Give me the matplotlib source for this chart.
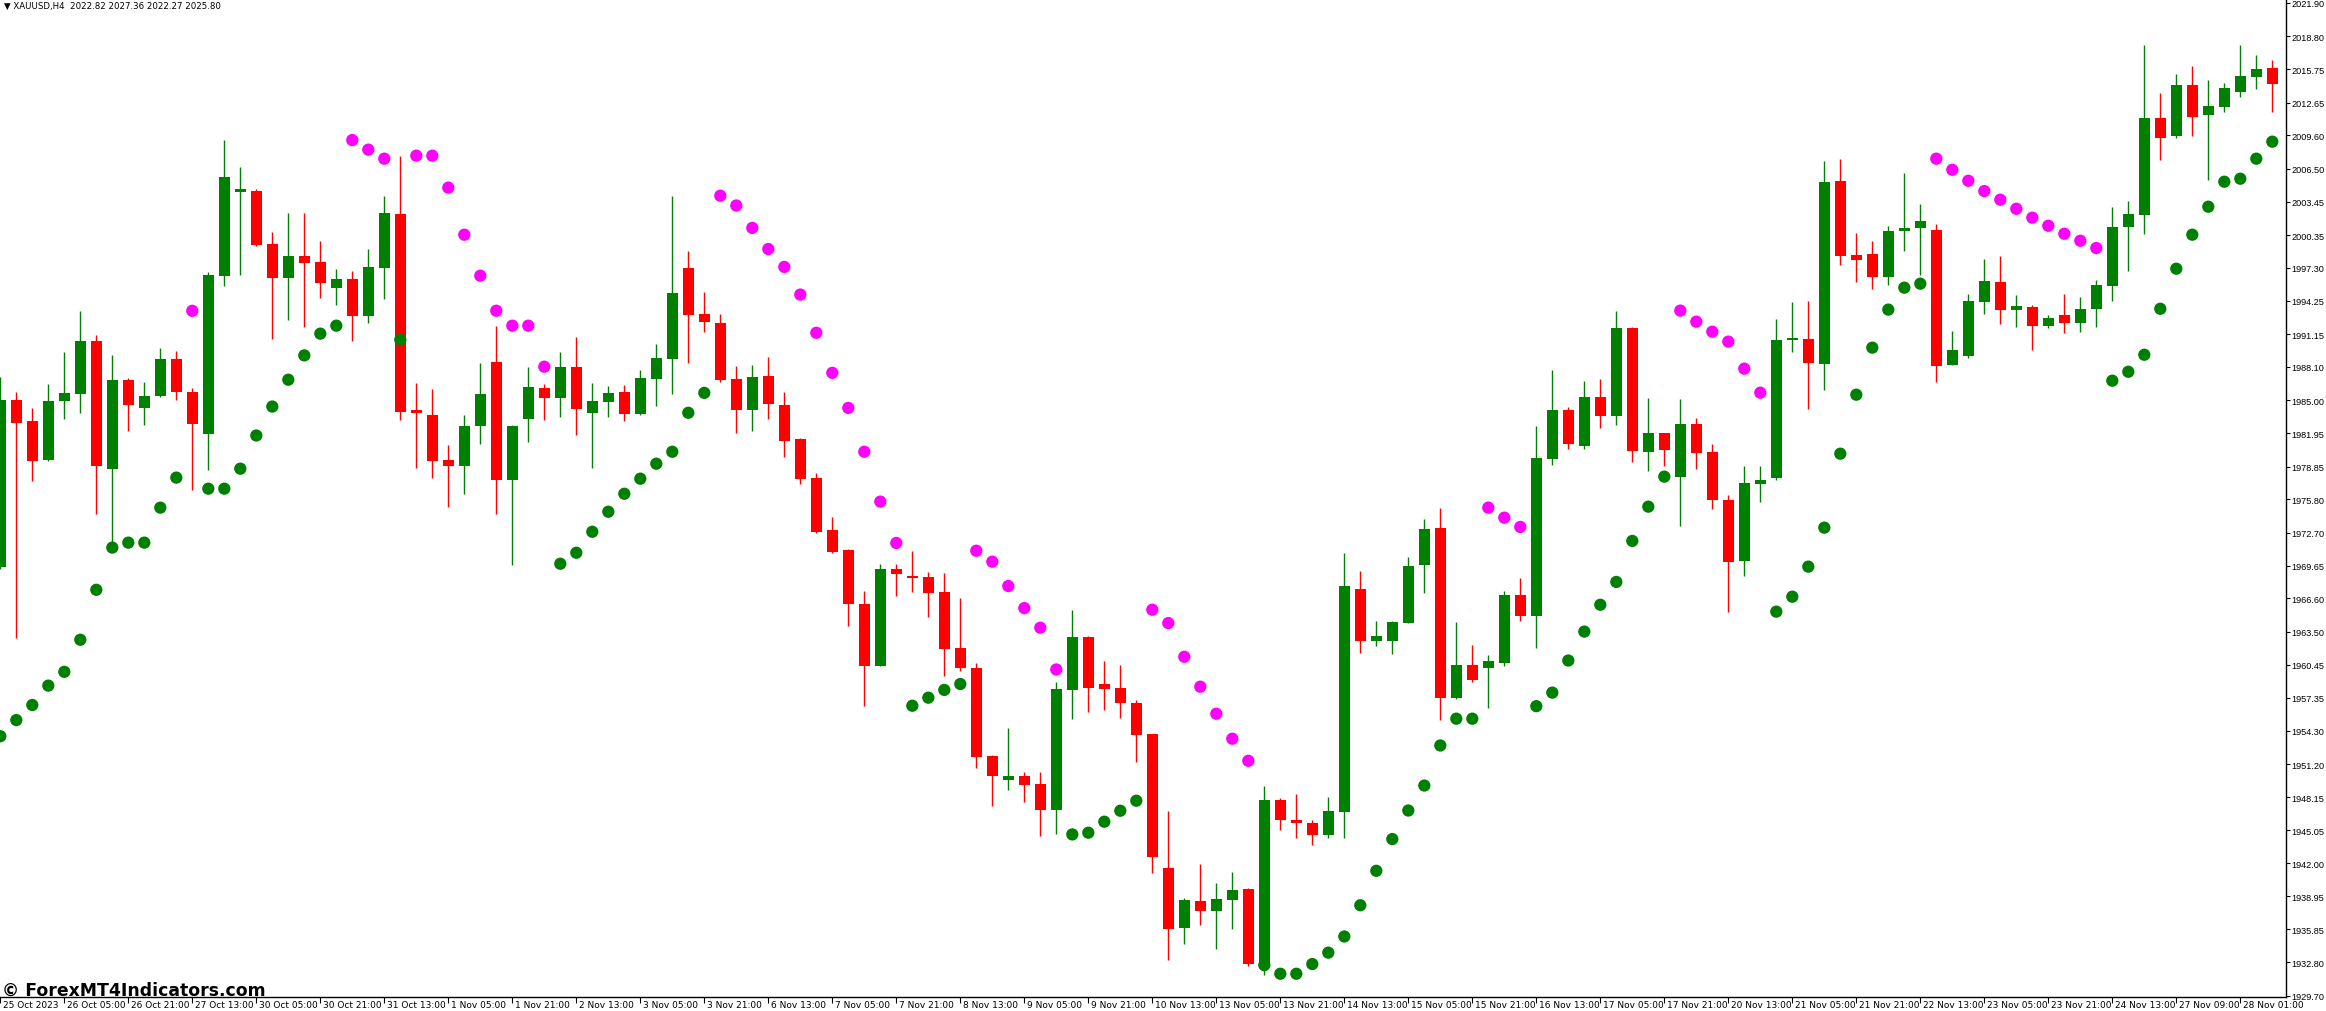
"""
xauusd_h4_psar.py
-----------------
XAUUSD H4 candles with Parabolic SAR dots, drawn in the MT4 chart style.

Produces:
    out.png
"""

import matplotlib
matplotlib.use("Agg")
import matplotlib.pyplot as plt
import matplotlib.transforms as mtransforms


# ---------------------------------------------------------
# Data (one entry per H4 bar)
# ---------------------------------------------------------
OPENS = [
    1969.50, 1985.00, 1983.06, 1979.48, 1984.89, 1985.60, 1990.49, 1978.65, 1986.88, 1984.32,
    1985.42, 1988.83, 1985.78, 1981.90, 1996.56, 2004.39, 2004.42, 1999.51, 1996.40, 1998.39,
    1997.86, 1995.46, 1996.26, 1992.86, 1997.31, 2002.30, 1984.09, 1983.63, 1979.45, 1978.93,
    1982.64, 1988.55, 1977.63, 1983.29, 1986.14, 1985.24, 1988.09, 1983.85, 1984.87, 1985.77,
    1983.76, 1987.00, 1988.85, 1997.29, 1993.02, 1992.18, 1986.96, 1984.13, 1987.26, 1984.55,
    1981.39, 1977.78, 1972.96, 1971.10, 1966.08, 1960.35, 1969.34, 1968.69, 1968.59, 1967.19,
    1961.98, 1960.13, 1951.96, 1949.76, 1950.10, 1949.36, 1946.97, 1958.12, 1963.00, 1958.64,
    1958.27, 1956.88, 1954.00, 1941.55, 1936.01, 1938.49, 1937.59, 1938.61, 1939.60, 1932.48,
    1947.87, 1945.98, 1945.74, 1944.65, 1946.80, 1967.47, 1962.66, 1962.66, 1964.35, 1969.72,
    1973.14, 1957.38, 1960.40, 1960.10, 1960.64, 1966.90, 1964.98, 1979.57, 1984.09, 1980.77,
    1985.31, 1983.52, 1991.71, 1980.23, 1981.96, 1977.91, 1982.80, 1980.20, 1975.74, 1970.11,
    1977.26, 1977.81, 1990.60, 1990.69, 1988.40, 2005.37, 1998.50, 1998.59, 1996.48, 2000.69,
    2001.03, 2000.82, 1988.30, 1989.14, 1994.16, 1995.98, 1993.41, 1993.66, 1991.93, 1992.92,
    1992.20, 1993.50, 1995.64, 2001.12, 2002.24, 2011.21, 2009.57, 2014.28, 2011.52, 2012.27,
    2013.66, 2015.05, 2015.86,
]
HIGHS = [
    1987.20, 1985.75, 1984.26, 1986.51, 1989.50, 1993.28, 1991.05, 1989.20, 1987.08, 1986.71,
    1989.86, 1989.56, 1986.15, 1996.93, 2009.17, 2006.68, 2004.62, 2000.64, 2002.40, 2002.40,
    1999.78, 1997.19, 1997.00, 1999.05, 2003.97, 2007.69, 1986.60, 1986.05, 1980.85, 1983.63,
    1988.46, 1991.90, 1982.70, 1988.09, 1986.51, 1989.48, 1990.87, 1986.60, 1986.32, 1986.42,
    1987.81, 1990.23, 2003.97, 1998.86, 1995.04, 1993.02, 1988.17, 1988.27, 1989.02, 1985.76,
    1981.49, 1978.23, 1974.16, 1971.23, 1967.29, 1969.80, 1969.80, 1971.00, 1969.05, 1968.95,
    1966.67, 1960.59, 1952.05, 1954.56, 1950.47, 1950.47, 1958.83, 1965.55, 1963.10, 1960.78,
    1960.41, 1957.13, 1954.05, 1946.85, 1938.80, 1941.93, 1940.16, 1941.18, 1939.70, 1949.17,
    1948.06, 1948.43, 1946.01, 1948.16, 1970.78, 1969.13, 1964.48, 1964.48, 1970.45, 1973.97,
    1974.99, 1964.42, 1962.26, 1961.33, 1967.27, 1968.50, 1982.59, 1987.80, 1984.38, 1986.77,
    1986.97, 1993.27, 1991.80, 1985.21, 1982.00, 1985.12, 1983.36, 1980.94, 1976.21, 1978.90,
    1978.90, 1992.55, 1994.13, 1994.22, 2007.23, 2007.41, 2000.54, 1999.80, 2001.19, 2006.11,
    2003.23, 2001.38, 1991.42, 1994.87, 1998.12, 1998.40, 1994.77, 1993.85, 1992.92, 1994.87,
    1994.59, 1996.17, 2002.95, 2003.50, 2017.99, 2013.54, 2015.30, 2016.04, 2014.74, 2014.46,
    2017.99, 2017.07, 2016.60,
]
LOWS = [
    1969.30, 1962.96, 1977.52, 1979.40, 1983.26, 1983.86, 1974.47, 1971.65, 1982.17, 1982.70,
    1985.30, 1985.05, 1976.69, 1978.55, 1995.63, 1996.66, 1999.35, 1990.72, 1992.48, 1991.85,
    1994.54, 1993.88, 1990.54, 1992.21, 1994.44, 1983.20, 1978.74, 1977.81, 1975.12, 1976.32,
    1980.97, 1974.47, 1969.73, 1981.15, 1983.20, 1983.48, 1981.80, 1978.74, 1983.48, 1983.10,
    1983.66, 1984.50, 1985.63, 1988.50, 1991.36, 1986.74, 1981.92, 1982.18, 1983.25, 1979.73,
    1977.26, 1972.70, 1970.84, 1964.06, 1956.57, 1960.28, 1966.86, 1967.22, 1964.91, 1959.43,
    1959.83, 1950.87, 1947.34, 1948.83, 1947.72, 1944.56, 1944.74, 1955.42, 1956.07, 1956.26,
    1955.52, 1951.43, 1941.12, 1933.04, 1934.49, 1936.26, 1934.06, 1935.92, 1932.48, 1931.65,
    1945.11, 1944.37, 1943.72, 1944.31, 1944.31, 1961.56, 1962.19, 1961.46, 1964.30, 1967.14,
    1955.33, 1957.25, 1958.88, 1956.46, 1960.34, 1964.51, 1962.03, 1979.01, 1980.50, 1980.50,
    1982.43, 1982.73, 1979.31, 1978.47, 1978.93, 1973.36, 1978.62, 1974.94, 1965.31, 1968.71,
    1975.59, 1977.63, 1989.52, 1984.22, 1985.99, 1997.60, 1996.02, 1995.37, 1995.74, 1998.90,
    1996.67, 1986.73, 1988.25, 1988.95, 1993.04, 1992.11, 1991.83, 1989.70, 1991.74, 1991.28,
    1991.37, 1991.83, 1994.25, 1997.04, 2000.47, 2007.34, 2009.39, 2009.57, 2005.49, 2011.80,
    2013.20, 2013.94, 2011.80,
]
CLOSES = [
    1985.00, 1982.93, 1979.35, 1984.92, 1985.68, 1990.49, 1978.88, 1986.88, 1984.59, 1985.38,
    1988.83, 1985.81, 1982.83, 1996.63, 2005.75, 2004.62, 1999.45, 1996.40, 1998.39, 1997.79,
    1995.93, 1996.26, 1992.86, 1997.37, 2002.39, 1983.94, 1983.85, 1979.39, 1978.93, 1982.61,
    1985.58, 1977.63, 1982.61, 1986.23, 1985.24, 1988.09, 1984.22, 1984.93, 1985.68, 1983.76,
    1987.07, 1988.93, 1994.95, 1992.96, 1992.31, 1986.87, 1984.13, 1987.16, 1984.68, 1981.26,
    1977.68, 1972.79, 1970.93, 1966.11, 1960.35, 1969.34, 1968.88, 1968.52, 1967.12, 1961.94,
    1960.15, 1951.89, 1950.13, 1950.10, 1949.29, 1946.97, 1958.18, 1963.00, 1958.30, 1958.21,
    1956.91, 1953.94, 1942.61, 1935.92, 1938.58, 1937.59, 1938.67, 1939.51, 1932.64, 1947.87,
    1946.04, 1945.76, 1944.58, 1946.83, 1967.73, 1962.66, 1963.09, 1964.41, 1969.59, 1973.04,
    1957.38, 1960.40, 1959.04, 1960.77, 1966.90, 1964.98, 1979.64, 1984.09, 1980.97, 1985.31,
    1983.52, 1991.71, 1980.30, 1981.96, 1980.42, 1982.80, 1980.14, 1975.77, 1970.01, 1977.32,
    1977.60, 1990.60, 1990.65, 1988.50, 2005.28, 1998.43, 1998.06, 1996.48, 2000.72, 2001.00,
    2001.65, 1988.22, 1989.67, 1994.22, 1996.07, 1993.41, 1993.75, 1991.93, 1992.64, 1992.20,
    1993.47, 1995.70, 2001.09, 2002.30, 2011.21, 2009.39, 2014.28, 2011.34, 2012.33, 2014.00,
    2015.11, 2015.76, 2014.40,
]
SAR = [
    1953.80, 1955.30, 1956.70, 1958.50, 1959.78, 1962.76, 1967.40, 1971.32, 1971.78, 1971.78,
    1975.03, 1977.82, 1993.31, 1976.79, 1976.79, 1978.65, 1981.73, 1984.42, 1986.91, 1989.17,
    1991.19, 1991.93, 2009.17, 2008.28, 2007.44, 1990.63, 2007.72, 2007.72, 2004.75, 2000.38,
    1996.57, 1993.32, 1991.93, 1991.93, 1988.12, 1969.82, 1970.84, 1972.79, 1974.65, 1976.32,
    1977.72, 1979.11, 1980.22, 1983.84, 1985.69, 2004.00, 2003.09, 2001.01, 1999.05, 1997.39,
    1994.82, 1991.27, 1987.55, 1984.29, 1980.22, 1975.59, 1971.75, 1956.63, 1957.38, 1958.10,
    1958.65, 1971.03, 1970.01, 1967.75, 1965.70, 1963.88, 1960.00, 1944.68, 1944.84, 1945.86,
    1946.88, 1947.81, 1965.55, 1964.31, 1961.18, 1958.40, 1955.89, 1953.57, 1951.52, 1932.54,
    1931.74, 1931.74, 1932.64, 1933.70, 1935.20, 1938.10, 1941.30, 1944.25, 1946.90, 1949.22,
    1952.94, 1955.43, 1955.43, 1975.03, 1974.10, 1973.24, 1956.59, 1957.85, 1960.83, 1963.52,
    1966.01, 1968.13, 1971.94, 1975.12, 1977.91, 1993.33, 1992.30, 1991.37, 1990.45, 1987.94,
    1985.71, 1965.37, 1966.76, 1969.55, 1973.17, 1980.04, 1985.52, 1989.89, 1993.42, 1995.46,
    1995.83, 2007.44, 2006.41, 2005.39, 2004.43, 2003.63, 2002.79, 2001.96, 2001.21, 2000.47,
    1999.82, 1999.14, 1986.82, 1987.65, 1989.23, 1993.50, 1997.22, 2000.38, 2002.98, 2005.30,
    2005.58, 2007.44, 2009.02,
]
# bars (first, last inclusive) where the SAR sits in the down-trend colour
SAR_DOWN_RUNS = [
    (12, 12), (22, 24), (26, 34), (45, 56), (61, 66), (72, 78),
    (93, 95), (105, 110), (121, 131),
]

X_LABELS = [
    "25 Oct 2023", "26 Oct 05:00", "26 Oct 21:00", "27 Oct 13:00", "30 Oct 05:00",
    "30 Oct 21:00", "31 Oct 13:00", "1 Nov 05:00", "1 Nov 21:00", "2 Nov 13:00",
    "3 Nov 05:00", "3 Nov 21:00", "6 Nov 13:00", "7 Nov 05:00", "7 Nov 21:00",
    "8 Nov 13:00", "9 Nov 05:00", "9 Nov 21:00", "10 Nov 13:00", "13 Nov 05:00",
    "13 Nov 21:00", "14 Nov 13:00", "15 Nov 05:00", "15 Nov 21:00", "16 Nov 13:00",
    "17 Nov 05:00", "17 Nov 21:00", "20 Nov 13:00", "21 Nov 05:00", "21 Nov 21:00",
    "22 Nov 13:00", "23 Nov 05:00", "23 Nov 21:00", "24 Nov 13:00", "27 Nov 09:00",
    "28 Nov 01:00",
]
X_LABEL_STEP = 4

Y_TICKS = [
    2021.90, 2018.80, 2015.75, 2012.65, 2009.60, 2006.50, 2003.45, 2000.35, 1997.30,
    1994.25, 1991.15, 1988.10, 1985.00, 1981.95, 1978.85, 1975.80, 1972.70, 1969.65,
    1966.60, 1963.50, 1960.45, 1957.35, 1954.30, 1951.20, 1948.15, 1945.05, 1942.00,
    1938.95, 1935.85, 1932.80, 1929.70,
]

HEADER = "\u25bc XAUUSD,H4  2022.82 2027.36 2022.27 2025.80"
WATERMARK = "\u00a9 ForexMT4Indicators.com"

# ---------------------------------------------------------
# Style / layout (pixels of the 2326x1012 output)
# ---------------------------------------------------------
W_PX, H_PX, DPI = 2326, 1012, 100
PLOT_RIGHT_PX = 2286
PLOT_BOTTOM_PX = 998
BAR_PX = 16.0
FIRST_BAR_PX = 0.3
BODY_PX = 11.0
Y_TOP = 2022.27
Y_BOTTOM = 1929.58

BULL = "#008000"
BEAR = "#ff0000"
SAR_UP = "#008000"
SAR_DOWN = "#ff00ff"
AXIS_FONT = "Liberation Sans"


def sar_colours(n):
    cols = [SAR_UP] * n
    for a, b in SAR_DOWN_RUNS:
        for i in range(a, b + 1):
            cols[i] = SAR_DOWN
    return cols


def main():
    n = len(OPENS)
    idx = list(range(n))

    fig = plt.figure(figsize=(W_PX / DPI, H_PX / DPI), dpi=DPI)
    fig.patch.set_facecolor("white")
    ax = fig.add_axes([0, (H_PX - PLOT_BOTTOM_PX) / H_PX,
                       PLOT_RIGHT_PX / W_PX, PLOT_BOTTOM_PX / H_PX])

    colours = [BULL if c >= o else BEAR for o, c in zip(OPENS, CLOSES)]

    # wicks
    ax.vlines(idx, LOWS, HIGHS, colors=colours, linewidth=1.0, zorder=2)

    # bodies
    bottoms = [min(o, c) for o, c in zip(OPENS, CLOSES)]
    heights = [max(abs(c - o), 0.16) for o, c in zip(OPENS, CLOSES)]
    ax.bar(idx, heights, bottom=bottoms, width=BODY_PX / BAR_PX,
           color=colours, linewidth=0, zorder=3)

    # parabolic SAR dots
    ax.scatter(idx, SAR, s=78, c=sar_colours(n), edgecolors="none", zorder=4)

    # axes range so that one bar = 16 px
    ax.set_xlim(-FIRST_BAR_PX / BAR_PX, (PLOT_RIGHT_PX - FIRST_BAR_PX) / BAR_PX)
    ax.set_ylim(Y_BOTTOM, Y_TOP)

    for side in ("left", "top"):
        ax.spines[side].set_visible(False)
    for side in ("right", "bottom"):
        ax.spines[side].set_color("black")
        ax.spines[side].set_linewidth(1.0)

    # price axis on the right
    ax.yaxis.tick_right()
    ax.set_yticks(Y_TICKS)
    ax.set_yticklabels([f"{v:.2f}" for v in Y_TICKS], family=AXIS_FONT,
                       fontsize=6.6)
    ax.tick_params(axis="y", direction="out", length=3, width=0.8,
                   pad=1.0, colors="black")

    # time axis: ticks every 4 bars, labels starting right of the tick
    tick_pos = [i * X_LABEL_STEP for i in range(len(X_LABELS))]
    ax.set_xticks(tick_pos)
    ax.set_xticklabels([])
    ax.tick_params(axis="x", direction="out", length=4, width=0.8)
    trans = mtransforms.blended_transform_factory(ax.transData, ax.transAxes)
    for pos, lab in zip(tick_pos, X_LABELS):
        ax.text(pos + 0.15, -0.003, lab, transform=trans, ha="left", va="top",
                fontsize=6.5, color="black", clip_on=False)

    fig.text(4 / W_PX, 1 - 2 / H_PX, HEADER, ha="left", va="top",
             fontsize=6.2, color="black")
    fig.text(2 / W_PX, (H_PX - 996) / H_PX, WATERMARK, ha="left", va="baseline",
             fontsize=12.4, fontweight="bold", color="black")

    fig.savefig("out.png", dpi=DPI)
    plt.close(fig)


if __name__ == "__main__":
    main()
